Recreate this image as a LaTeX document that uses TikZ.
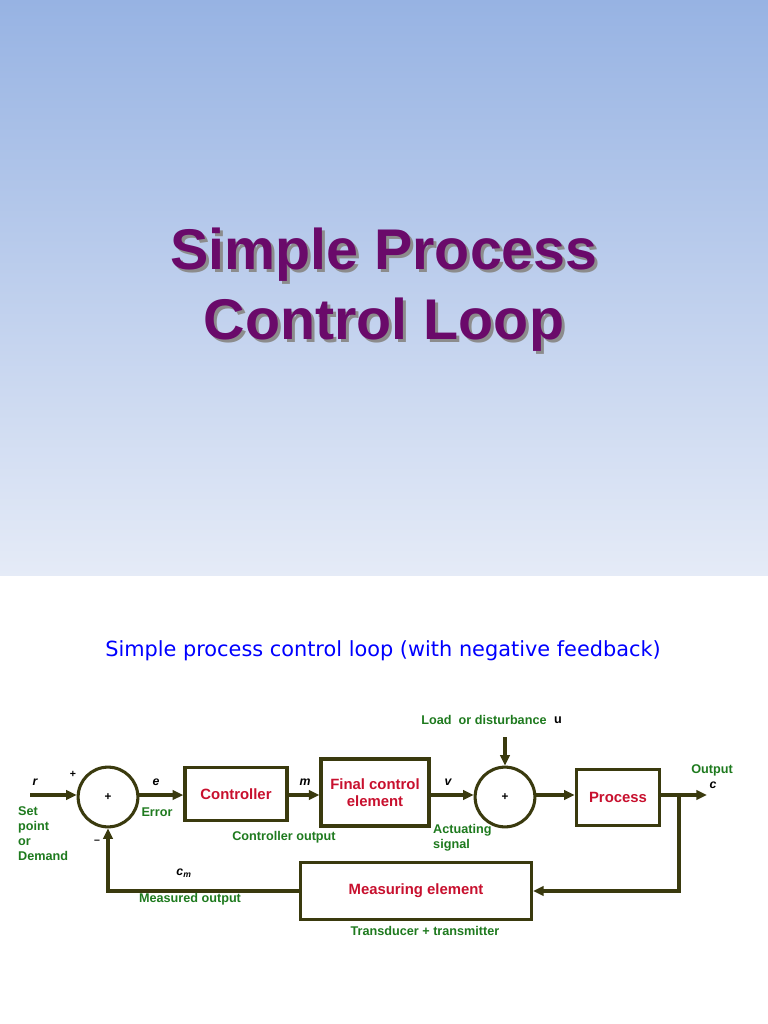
\documentclass[tikz,border=0pt]{standalone}
\usepackage{fontspec}
\setmainfont{Liberation Sans}
\newfontfamily\dv{DejaVu Sans}
\usetikzlibrary{arrows.meta}
\definecolor{ln}{HTML}{3A3A0E}
\definecolor{gr}{HTML}{1E7A1E}
\definecolor{rd}{HTML}{C8102E}
\definecolor{tp}{HTML}{6A0A6A}
\definecolor{topc}{HTML}{97B3E3}
\definecolor{botc}{HTML}{E5EBF7}
\begin{document}
\begin{tikzpicture}[x=0.03cm,y=-0.03cm,
  blk/.style={draw=ln,line width=3pt,minimum height=#1,font=\bfseries\fontsize{12.7}{15}\selectfont,text=rd,align=center,inner sep=0pt},
  sumc/.style={draw=ln,line width=2.6pt,circle,minimum size=51pt,font=\bfseries\fontsize{10}{12}\selectfont,inner sep=0pt},
  lbl/.style={text=gr,font=\bfseries\fontsize{10.8}{13}\selectfont,inner sep=0pt},
  sym/.style={font=\bfseries\itshape\fontsize{10.5}{12}\selectfont,inner sep=0pt},
  wire/.style={draw=ln,line width=2.8pt,-{Triangle[length=9pt,width=8pt]}}]
\useasboundingbox (0,0) rectangle (768,1024);
\shade[top color=topc,bottom color=botc] (0,0) rectangle (768,576);
\fill[white] (0,576) rectangle (768,1024);
\foreach \t/\y/\n in {Simple Process/255/t1,Control Loop/325/t2}{
  \node[text=black!45,font=\bfseries\fontsize{49}{52}\selectfont] at (387,\y+3) {\t};
  \node[text=tp,font=\bfseries\fontsize{49}{52}\selectfont] (\n) at (384,\y) {\t};
}
\node[text=blue,font=\dv\fontsize{17.8}{20}\selectfont] (sub) at (383,651) {Simple process control loop (with negative feedback)};
\node[sumc] (s1) at (108,797) {+};
\node[sumc] (s2) at (505,797) {+};
\node[blk=45pt,minimum width=87pt] (ctl) at (236,794) {Controller};
\node[blk=57pt,minimum width=92pt] (fce) at (375,792.5) {Final control\\element};
\node[blk=48pt,minimum width=71pt] (proc) at (618,797.5) {Process};
\node[blk=49pt,minimum width=197pt] (meas) at (416,891) {Measuring element};
\coordinate (rin) at (30,795);
\coordinate (cout) at (707,795);
\coordinate (tap) at (679,795);
\coordinate (uin) at (505,737);
\draw[wire] (rin) -- (s1.west |- rin);
\draw[wire] (s1.east |- rin) -- (ctl.west |- rin);
\draw[wire] (ctl.east |- rin) -- (fce.west |- rin);
\draw[wire] (fce.east |- rin) -- (s2.west |- rin);
\draw[wire] (s2.east |- rin) -- (proc.west |- rin);
\draw[wire] (proc.east |- rin) -- (cout);
\draw[wire] (uin) -- (s2.north);
\draw[wire] (tap) |- (meas.east);
\draw[wire] (meas.west) -| (s1.south);
\node[sym] at (35,782) {r};
\node[font=\bfseries\fontsize{9}{10}\selectfont] at (73,774) {+};
\node[font=\bfseries\fontsize{9}{10}\selectfont] at (97,842) {–};
\node[sym] at (156,782) {e};
\node[sym] at (305,782) {m};
\node[sym] at (448,782) {v};
\node[sym] at (713,785) {c};
\node[sym] at (184,873) {c\textsubscript{m}};
\node[lbl,align=left,anchor=north west] at (18,806) {Set\\point\\or\\Demand};
\node[lbl] at (157,812) {Error};
\node[lbl] at (284,837) {Controller output};
\node[lbl,align=left,anchor=north west] at (433,824) {Actuating\\signal};
\node[lbl] at (484,720) {Load\ \ or disturbance};
\node[sym,font=\bfseries\fontsize{10.8}{12}\selectfont] at (558,720) {u};
\node[lbl] at (712,770) {Output};
\node[lbl] at (190,899) {Measured output};
\node[lbl] at (425,931) {Transducer + transmitter};
\end{tikzpicture}
\end{document}
